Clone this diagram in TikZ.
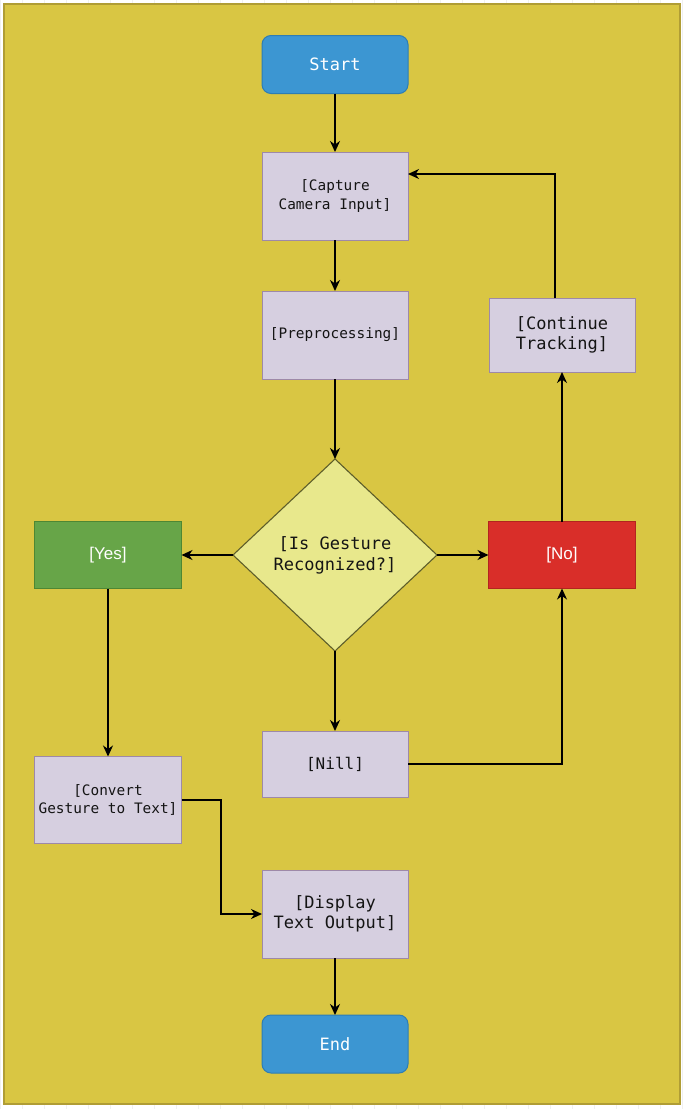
\documentclass[tikz,border=0pt]{standalone}
\usepackage{fontspec}
\setmonofont{DejaVu Sans Mono}
\setsansfont{Liberation Sans}
\usetikzlibrary{shapes.geometric,arrows.meta}
\definecolor{bgyellow}{HTML}{D9C643}
\definecolor{bgborder}{HTML}{B09D35}
\definecolor{termblue}{HTML}{3C96D2}
\definecolor{termborder}{HTML}{2E7DB3}
\definecolor{procfill}{HTML}{D6CFE0}
\definecolor{procborder}{HTML}{9E89A8}
\definecolor{decfill}{HTML}{E8E88C}
\definecolor{decborder}{HTML}{5E5E2A}
\definecolor{yesfill}{HTML}{67A548}
\definecolor{yesborder}{HTML}{4E8733}
\definecolor{nofill}{HTML}{D92E29}
\definecolor{noborder}{HTML}{B3241F}
\definecolor{txt}{HTML}{141414}
\tikzset{
  base/.style={inner sep=0pt, outer sep=0pt, line width=1pt, align=center, minimum width=146pt},
  term/.style={base, rounded corners=9pt, fill=termblue, draw=termborder, text=white, minimum height=58pt, font=\ttfamily\fontsize{17}{20}\selectfont},
  proc/.style={base, fill=procfill, draw=procborder, text=txt, minimum height=88pt},
  smalltxt/.style={font=\ttfamily\fontsize{14.4}{18.5}\selectfont},
  bigtxt/.style={font=\ttfamily\fontsize{17}{20.5}\selectfont},
  dec/.style={shape=diamond, inner sep=0pt, outer sep=0pt, line width=1.1pt, fill=decfill, draw=decborder, text=txt, minimum width=204pt, minimum height=192pt, aspect=1.0625, align=center, font=\ttfamily\fontsize{17}{21}\selectfont},
  yesbox/.style={base, minimum width=147pt, minimum height=67pt, fill=yesfill, draw=yesborder, text=white, font=\sffamily\fontsize{17}{20}\selectfont},
  nobox/.style={base, minimum width=147pt, minimum height=67pt, fill=nofill, draw=noborder, text=white, font=\sffamily\fontsize{17}{20}\selectfont},
  conn/.style={line width=1.5pt, draw=black, -{Stealth[length=11pt,width=10pt,inset=3.5pt]}},
}
\begin{document}
\begin{tikzpicture}[x=1pt,y=-1pt]
\useasboundingbox (0,0) rectangle (685,1109);
\fill[white] (0,0) rectangle (685,1109);
\draw[gray!12, line width=0.5pt, step=22] (0,0) grid (685,1109);
\filldraw[fill=bgyellow, draw=bgborder, line width=2pt] (4,4) rectangle (680,1104);

\node[term] (start) at (335,64.5) {Start};
\node[proc, smalltxt] (cap) at (335,196) {[Capture\\Camera Input]};
\node[proc, smalltxt] (pre) at (335,335) {[Preprocessing]};
\node[proc, bigtxt, minimum height=74pt] (cont) at (562,335) {[Continue\\Tracking]};
\node[dec] (dec) at (335,555) {[Is Gesture\\Recognized?]};
\node[yesbox] (yes) at (108,555) {[Yes]};
\node[nobox] (no) at (562,555) {[No]};
\node[proc, minimum height=66pt, font=\ttfamily\fontsize{16}{20}\selectfont] (nill) at (335,764) {[Nill]};
\node[proc, smalltxt, minimum width=147pt, minimum height=87pt] (conv) at (108,800) {[Convert\\Gesture to Text]};
\node[proc, bigtxt] (disp) at (335,914) {[Display\\Text Output]};
\node[term] (end) at (335,1044) {End};

\coordinate (bend) at (221,800);
\coordinate (loopx) at (555,335);

\draw[conn] (start) -- (cap);
\draw[conn] (cap) -- (pre);
\draw[conn] (pre) -- (dec);
\draw[conn] (dec) -- (yes);
\draw[conn] (dec) -- (no);
\draw[conn] (dec) -- (nill);
\draw[conn] (nill.east) -| (no.south);
\draw[conn] (no) -- (cont);
\draw[conn] (loopx |- cont.north) |- ([yshift=22pt]cap.east);
\draw[conn] (yes) -- (conv);
\draw[conn] (conv.east) -- (bend) |- (disp.west);
\draw[conn] (disp) -- (end);
\end{tikzpicture}
\end{document}
